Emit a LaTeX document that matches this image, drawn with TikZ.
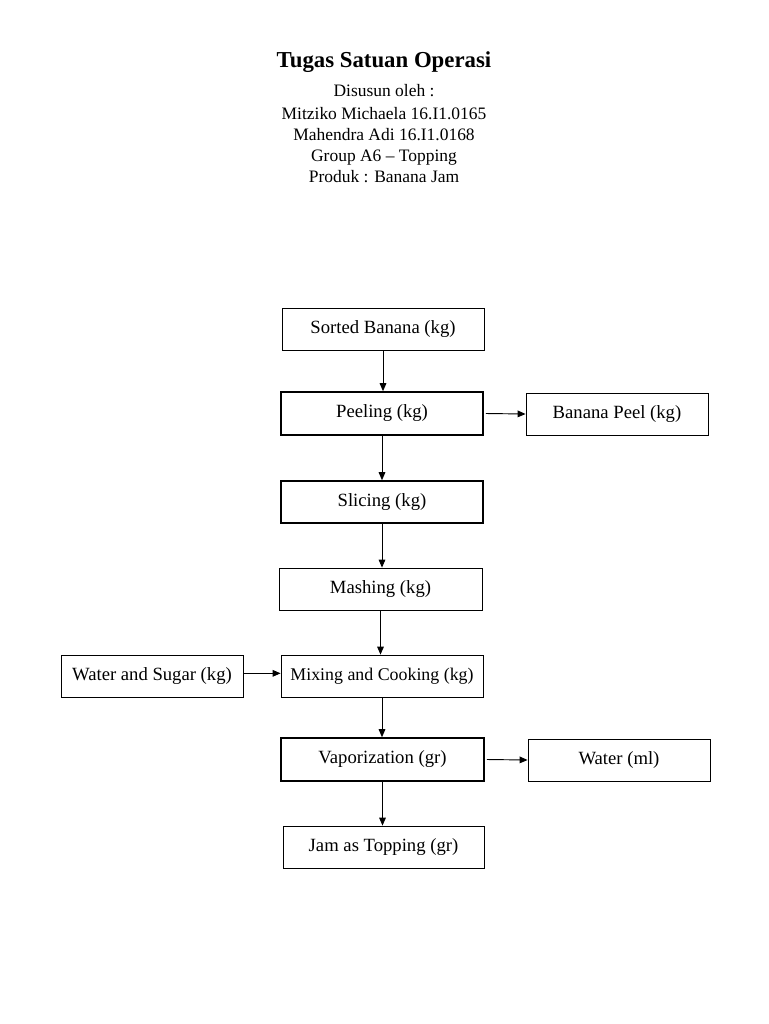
\documentclass[tikz,border=0pt]{standalone}
\usepackage{fontspec}
\setmainfont{Liberation Serif}
\usetikzlibrary{arrows.meta}
\begin{document}
\begin{tikzpicture}[x=0.75pt,y=-0.75pt,
  box/.style={draw,line width=0.6pt,rectangle,inner sep=0pt,font=\fontsize{14}{16}\selectfont,text height=9.5pt,text depth=3.5pt},
  boldbox/.style={box,line width=1.2pt},
  hdr/.style={anchor=base,inner sep=0pt,font=\fontsize{13.1}{15}\selectfont},
  arr/.style={line width=0.7pt,-{Triangle[length=6pt,width=5pt]}}]
\useasboundingbox (0,0) rectangle (768,1024);
% title
\node[hdr,font=\fontsize{17.1}{19}\bfseries\selectfont] (title) at (384,68) {Tugas Satuan Operasi};
\node[hdr] (l1) at (384,97) {Disusun oleh :};
\node[hdr] (l2) at (384,119) {Mitziko Michaela 16.I1.0165};
\node[hdr] (l3) at (384,140) {Mahendra Adi 16.I1.0168};
\node[hdr] (l4) at (384,161) {Group A6 -- Topping};
\node[hdr] (l5) at (384,182) {Produk : Banana Jam};
% boxes
\node[box,minimum width=202*0.75pt,minimum height=42*0.75pt] (sorted) at (383,329) {Sorted Banana (kg)};
\node[boldbox,minimum width=202*0.75pt,minimum height=43*0.75pt] (peel) at (382,413.5) {Peeling (kg)};
\node[box,minimum width=182*0.75pt,minimum height=42*0.75pt] (bpeel) at (617,414) {Banana Peel (kg)};
\node[boldbox,minimum width=202*0.75pt,minimum height=42*0.75pt] (slice) at (382,502) {Slicing (kg)};
\node[box,minimum width=203*0.75pt,minimum height=42*0.75pt] (mash) at (380.5,589) {Mashing (kg)};
\node[box,minimum width=182*0.75pt,minimum height=42*0.75pt] (ws) at (152,676) {Water and Sugar (kg)};
\node[box,minimum width=202*0.75pt,minimum height=42*0.75pt,font=\fontsize{13.4}{15}\selectfont] (mix) at (382,676) {Mixing and Cooking (kg)};
\node[boldbox,minimum width=203*0.75pt,minimum height=43*0.75pt] (vap) at (382.5,759.5) {Vaporization (gr)};
\node[box,minimum width=182*0.75pt,minimum height=42*0.75pt] (water) at (619,760) {Water (ml)};
\node[box,minimum width=201*0.75pt,minimum height=42*0.75pt] (jam) at (383.5,847) {Jam as Topping (gr)};
% connectors
\draw[arr] (sorted.south) -- (sorted.south |- peel.north);
\draw[arr] (peel.south) -- (peel.south |- slice.north);
\draw[arr] (slice.south) -- (slice.south |- mash.north);
\draw[arr] (mash.south) -- (mash.south |- mix.north);
\draw[arr] (mix.south) -- (mix.south |- vap.north);
\draw[arr] (vap.south) -- (vap.south |- jam.north);
\draw[arr] ([xshift=1.5pt]peel.east) -- (bpeel.west);
\draw[arr] ([yshift=2pt]ws.east) -- ([yshift=2pt]mix.west);
\draw[arr] ([xshift=1.5pt]vap.east) -- (water.west);
\end{tikzpicture}
\end{document}
